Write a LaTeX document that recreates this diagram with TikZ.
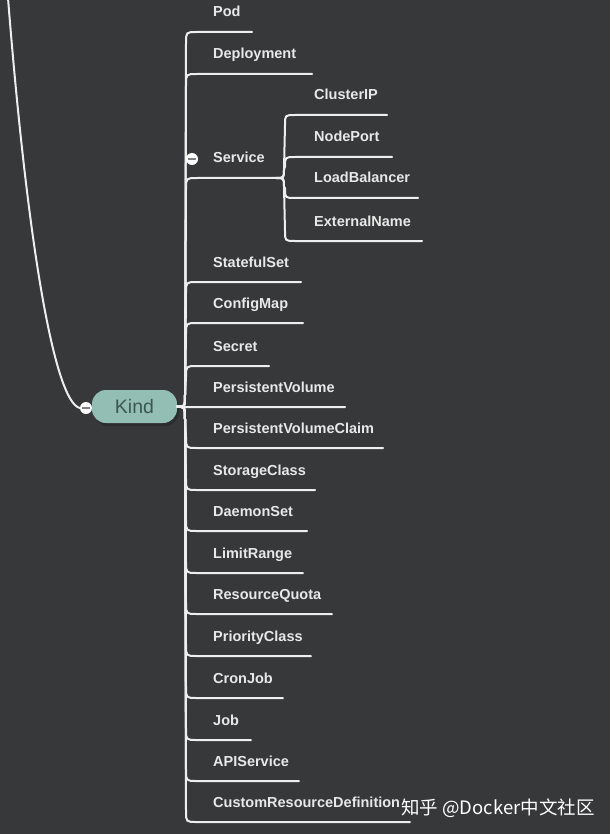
\documentclass[tikz,border=0pt]{standalone}
\usepackage{fontspec}
\setmainfont{Liberation Sans}
\newfontfamily\cjk{Noto Sans CJK SC}
\definecolor{bg}{HTML}{363839}
\definecolor{ln}{HTML}{EEEEEE}
\definecolor{tx}{HTML}{E8E8E8}
\definecolor{kindfill}{HTML}{93BEB4}
\definecolor{kindtext}{HTML}{3B5752}
\definecolor{shad}{HTML}{2A2C2D}
\begin{document}
\begin{tikzpicture}[x=1pt,y=-1pt,
  br/.style={draw=ln,line width=2pt,line cap=round,line join=round},
  item/.style={anchor=base west,inner sep=0pt,text=tx,font=\fontsize{14.5}{16}\selectfont\bfseries},
  collapse/.style={circle,fill=white,minimum size=12pt,inner sep=0pt},
  minus/.style={draw=gray,line width=1.6pt}]
\fill[bg] (0,0) rectangle (610,834);
\useasboundingbox (0,0) rectangle (610,834);
% Kind node
\fill[shad,rounded corners=14pt] (94,393) rectangle (179,426);
\node[fill=kindfill,rounded corners=14pt,minimum width=85pt,minimum height=33pt,inner sep=0pt,
      text=kindtext,font=\fontsize{19.5}{22}\selectfont] (kind) at (134.5,406.5) {Kind};
% collapse circle left of Kind and curve from above
\node[collapse] (c1) at (86,408) {};
\coordinate (topend) at (8,-2);
\draw[br] (topend) .. controls (28,250) and (55,402) .. (c1.west);
\draw[minus] ([xshift=2.5pt]c1.west) -- ([xshift=-2.5pt]c1.east);
% main branches
\foreach \yc/\xe/\lab/\nm in {
  32/252/Pod/pod, 74/312/Deployment/dep, 178/276/Service/svc,
  282/301/StatefulSet/sts, 323/303/ConfigMap/cm, 366/269/Secret/sec,
  407/345/PersistentVolume/pv, 448/383/PersistentVolumeClaim/pvc,
  490/315/StorageClass/sc, 531/307/DaemonSet/ds, 573/303/LimitRange/lr,
  614/332/ResourceQuota/rq, 656/311/PriorityClass/pc, 698/283/CronJob/cj,
  740/251/Job/job, 781/299/APIService/api, 822/410/CustomResourceDefinition/crd}{
  \pgfmathsetmacro{\s}{sign(\yc-407)}
  \node[item] (\nm) at (213,\yc-15) {\lab};
  \coordinate (\nm e) at (\xe,\yc);
  \draw[br] (kind.east) .. controls (185,407) .. (185,{407+13*\s})
     -- (186,{\yc-11*\s}) .. controls (186,\yc) .. (197,\yc) -- (\nm e);
}
% Service collapse circle
\node[collapse] (c2) at (192,159) {};
\draw[minus] ([xshift=2.5pt]c2.west) -- ([xshift=-2.5pt]c2.east);
% Service sub-branches
\foreach \yc/\xe/\lab/\nm in {
  115/387/ClusterIP/cip, 157/392/NodePort/np,
  198/418/LoadBalancer/lb, 241/422/ExternalName/en}{
  \pgfmathsetmacro{\s}{sign(\yc-178)}
  \node[item] (\nm) at (314,\yc-15) {\lab};
  \coordinate (\nm e) at (\xe,\yc);
  \draw[br] (svce) .. controls (284,178) .. (284,{178+9*\s})
     -- (285,{\yc-10*\s}) .. controls (285,\yc) .. (295,\yc) -- (\nm e);
}
% watermark
\node[anchor=base west,inner sep=0pt,text=white,font=\cjk\fontsize{18.5}{21}\selectfont] (wm) at (401,814) {知乎 @Docker中文社区};
\end{tikzpicture}
\end{document}
